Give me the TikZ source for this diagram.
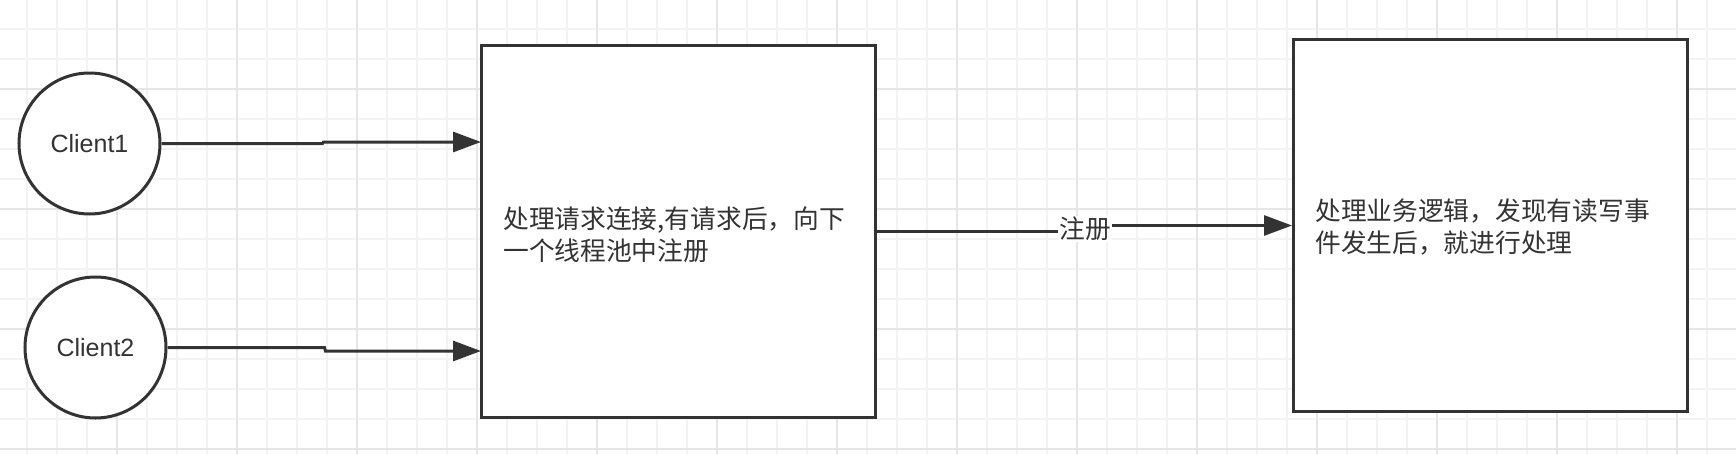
\documentclass[tikz,border=0pt]{standalone}
\usepackage{fontspec}
\setmainfont{Liberation Sans}
\newfontfamily\cjk{Noto Sans CJK SC}
\usepackage{tikz}
\usetikzlibrary{arrows.meta}

\definecolor{ink}{RGB}{51,51,51}
\definecolor{gridminor}{RGB}{243,243,243}
\definecolor{gridmajor}{RGB}{230,230,230}

\tikzset{
  client/.style={circle,draw=ink,line width=2.25pt,fill=white,minimum size=105.75pt,inner sep=0pt,
    font=\fontsize{18.75}{23}\selectfont,text=ink},
  stage/.style={draw=ink,line width=2.25pt,fill=white,minimum width=295.5pt,minimum height=279pt,inner sep=0pt},
  note/.style={anchor=west,align=left,inner sep=0pt,text=ink,font=\cjk\fontsize{19.3}{23.8}\selectfont},
  link/.style={draw=ink,line width=2.25pt},
  flow/.style={link,-{Triangle[length=21pt,width=15pt]}}
}

\begin{document}
\begin{tikzpicture}[x=0.75pt,y=0.75pt,yscale=-1,xscale=1]
\useasboundingbox (0,0) rectangle (1736,454);
\fill[white] (0,0) rectangle (1736,454);

%Grid
\foreach \x in {27,57,...,1737} \draw[gridminor,line width=1.2pt] (\x,0) -- (\x,454);
\foreach \y in {29,59,...,449} \draw[gridminor,line width=1.2pt] (0,\y) -- (1736,\y);
\foreach \x in {117,237,...,1677} \draw[gridmajor,line width=1.2pt] (\x,0) -- (\x,454);
\foreach \y in {89,209,...,449} \draw[gridmajor,line width=1.2pt] (0,\y) -- (1736,\y);

%Shape: Circle
\draw (89.5,143.5) node[client] (c1) {Client1};
%Shape: Circle
\draw (95.5,347.5) node[client] (c2) {Client2};

%Shape: Rectangle
\draw (678,231) node[stage] (acceptor) {};
%Shape: Rectangle
\draw (1490.5,225.5) node[stage] (worker) {};

% Text Node
\draw (503,234.5) node[note] (acceptortxt) {处理请求连接,有请求后，向下\\一个线程池中注册};
% Text Node
\draw (1315,227) node[note] (workertxt) {处理业务逻辑，发现有读写事\\件发生后，就进行处理};

\coordinate (in1) at (481,142);
\coordinate (in2) at (481,351);

%Straight Lines
\draw[flow] (c1.east) -- ++(161,0) -- ++(1,-1.5) -- (in1);
%Straight Lines
\draw[flow] (c2.east) -- ++(157,0) -- ++(1,3.5) -- (in2);

% Text Node
\draw (1085,229) node[fill=white,inner sep=1pt,text=ink,font=\cjk\fontsize{19.3}{23}\selectfont] (reg) {注册};

%Straight Lines
\draw[link] (acceptor.east) -- (reg.west |- acceptor.east);
\draw[flow] (reg.east |- worker.west) -- (worker.west);

\end{tikzpicture}
\end{document}
